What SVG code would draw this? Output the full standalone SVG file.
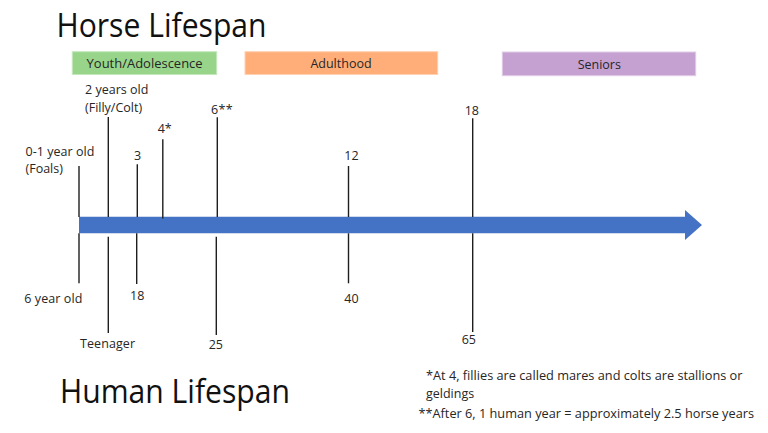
<svg xmlns="http://www.w3.org/2000/svg" width="768" height="433" viewBox="0 0 768 433">
<style>
.title{font-family:"Open Sans","Liberation Sans",sans-serif;font-size:33px;fill:#111}
.lbl{font-family:"Open Sans","Liberation Sans",sans-serif;font-size:12.5px;fill:#262626}
.band{font-family:"Open Sans","Liberation Sans",sans-serif;font-size:12.5px;fill:#262626;text-anchor:middle}
.tick{stroke:#1e1e1e;stroke-width:1.4;fill:none}
</style>
<rect width="768" height="433" fill="#ffffff"/>
<g id="horse-title"><text class="title" x="56.5" y="37.3" textLength="210" lengthAdjust="spacingAndGlyphs">Horse Lifespan</text></g>
<g id="human-title"><text class="title" x="60" y="403" textLength="230" lengthAdjust="spacingAndGlyphs">Human Lifespan</text></g>
<g id="band-youth"><rect x="72.3" y="51.7" width="144.4" height="22.8" fill="#98D58B" stroke="#c4e8bc" stroke-width="1"/><text class="band" x="144.6" y="68.3" textLength="116" lengthAdjust="spacingAndGlyphs">Youth/Adolescence</text></g>
<g id="band-adult"><rect x="245" y="51.7" width="192.7" height="22.8" fill="#FFAE79" stroke="#ffd2b4" stroke-width="1"/><text class="band" x="341" y="68.3">Adulthood</text></g>
<g id="band-senior"><rect x="502.3" y="52" width="193.4" height="23.7" fill="#C5A1D1" stroke="#e0cbe7" stroke-width="1"/><text class="band" x="599.3" y="68.5">Seniors</text></g>
<g id="timeline"><polygon points="79,216.7 685,216.7 685,210 702,225 685,240 685,233.3 79,233.3" fill="#4472C4"/></g>
<g id="connectors">
<line class="tick" x1="79" y1="166" x2="79" y2="217"/>
<line class="tick" x1="108.3" y1="117" x2="108.3" y2="217"/>
<line class="tick" x1="137.3" y1="164.3" x2="137.3" y2="217"/>
<line class="tick" x1="162.8" y1="139.3" x2="162.8" y2="218.5"/>
<line class="tick" x1="217.3" y1="117.3" x2="217.3" y2="217"/>
<line class="tick" x1="348.5" y1="166" x2="348.5" y2="217"/>
<line class="tick" x1="472.7" y1="118.3" x2="472.7" y2="217" stroke="#555"/>
<line class="tick" x1="79" y1="233.3" x2="79" y2="283.3"/>
<line class="tick" x1="108.3" y1="236.7" x2="108.3" y2="333"/>
<line class="tick" x1="136.7" y1="233.3" x2="136.7" y2="284"/>
<line class="tick" x1="216.3" y1="236.7" x2="216.3" y2="335"/>
<line class="tick" x1="348.5" y1="233.3" x2="348.5" y2="283.3"/>
<line class="tick" x1="472.7" y1="233.3" x2="472.7" y2="332" stroke="#555"/>
</g>
<g id="horse-0-1"><text class="lbl" x="25.5" y="155.7" textLength="68.8">0-1 year old</text><text class="lbl" x="25.5" y="172.7">(Foals)</text></g>
<g id="horse-2"><text class="lbl" x="85" y="94" textLength="63.3">2 years old</text><text class="lbl" x="85" y="112">(Filly/Colt)</text></g>
<g id="horse-3"><text class="lbl" x="134" y="160">3</text></g>
<g id="horse-4"><text class="lbl" x="157.7" y="133.3">4*</text></g>
<g id="horse-6"><text class="lbl" x="211" y="114" textLength="21.7">6**</text></g>
<g id="horse-12"><text class="lbl" x="344.3" y="160">12</text></g>
<g id="horse-18"><text class="lbl" x="464.7" y="115">18</text></g>
<g id="human-6"><text class="lbl" x="24.3" y="303.3" textLength="58">6 year old</text></g>
<g id="human-teen"><text class="lbl" x="80" y="347.7" textLength="55">Teenager</text></g>
<g id="human-18"><text class="lbl" x="130" y="300">18</text></g>
<g id="human-25"><text class="lbl" x="208.7" y="349">25</text></g>
<g id="human-40"><text class="lbl" x="344.3" y="303.3">40</text></g>
<g id="human-65"><text class="lbl" x="461.7" y="344.3">65</text></g>
<g id="notes">
<text class="lbl" x="426" y="380" textLength="316.5" lengthAdjust="spacingAndGlyphs">*At 4, fillies are called mares and colts are stallions or</text>
<text class="lbl" x="426" y="398">geldings</text>
<text class="lbl" x="418.5" y="418" textLength="335.5" lengthAdjust="spacingAndGlyphs">**After 6, 1 human year = approximately 2.5 horse years</text>
</g>
</svg>
